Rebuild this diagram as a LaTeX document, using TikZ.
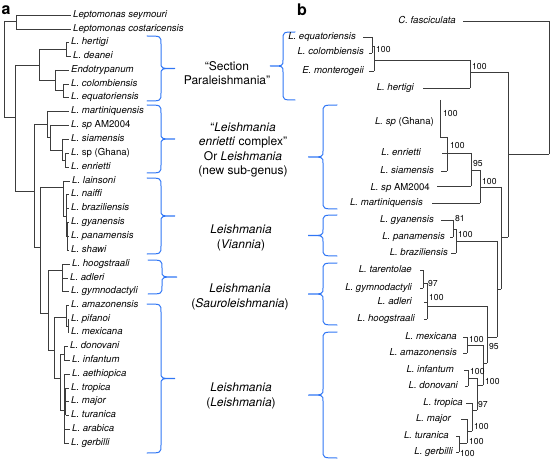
\documentclass[tikz,border=0pt]{standalone}
\usepackage{fontspec}
\setmainfont{TeX Gyre Heros}
\usetikzlibrary{positioning}
\definecolor{braceblue}{RGB}{48,118,245}
\definecolor{treegray}{RGB}{60,60,60}

\tikzset{
  branch/.style={draw=treegray, line width=0.8pt},
  taxon/.style={font=\fontsize{9.6}{11}\selectfont\itshape, inner sep=0pt, text height=6.8pt, text depth=2pt},
  taxa/.style={taxon, anchor=west},
  taxb/.style={taxon, anchor=east},
  boot/.style={font=\fontsize{8.6}{9}\selectfont, inner sep=0pt, anchor=west, text height=6.2pt, text depth=0pt},
  group/.style={font=\fontsize{12}{14.5}\selectfont, align=center, inner sep=0pt},
  curly/.style={draw=braceblue, line width=1pt, line cap=round},
  panel/.style={font=\fontsize{16}{16}\selectfont\bfseries, inner sep=0pt}
}

% clade: parent x, own x, joining y, top y, bottom y
\newcommand{\clade}[5]{\draw[branch] (#1,#3) -- (#2,#3) (#2,#4) -- (#2,#5);}
% curly bracket: end x, back x, tip x, top y, bottom y
\newcommand{\groupbrace}[5]{%
  \draw[curly] (#1,#4) .. controls (#2,#4) .. (#2,#4+8)
    -- (#2,{(#4+#5)/2-6}) .. controls (#2,{(#4+#5)/2}) .. (#3,{(#4+#5)/2})
    .. controls (#2,{(#4+#5)/2}) .. (#2,{(#4+#5)/2+6})
    -- (#2,#5-8) .. controls (#2,#5) .. (#1,#5);}

\begin{document}
\begin{tikzpicture}[x=1pt,y=-1pt]
\useasboundingbox (0,0) rectangle (550,460);

\node[panel] (panela) at (6,10) {a};
\node[panel] (panelb) at (302,10) {b};

% ---- tree a ----
\draw[branch] (4,21) -- (4,117);
\clade{4}{16}{21}{15}{29}
\clade{4}{15}{117}{65}{191}
\clade{15}{39}{65}{49}{80}
\clade{39}{66}{49}{42}{56}
\clade{39}{55}{80}{70}{90}
\clade{55}{63}{90}{84}{97}
\clade{15}{34}{191}{124}{247}
\clade{34}{47}{124}{111}{137}
\clade{47}{50}{137}{125}{150}
\clade{50}{62}{150}{139}{160}
\clade{62}{65}{160}{153}{167}
\clade{34}{40}{247}{187}{313}
\clade{40}{63}{187}{181}{216}
\clade{63}{66}{216}{194}{236}
\clade{66}{67}{236}{222}{250}
\clade{40}{48}{313}{270}{350}
\clade{48}{62}{270}{264}{291}
\clade{48}{54}{350}{317}{378}
\clade{54}{66}{317}{305}{326}
\clade{66}{68}{326}{319}{333}
\clade{54}{60}{378}{354}{410}
\clade{60}{64}{354}{346}{360}
\clade{60}{64}{410}{374}{443}
\clade{64}{65.5}{401}{388}{415}

\foreach \x/\y/\n/\p/\t in {
  73/15/seymouri/16/Leptomonas seymouri,
  73/29/costaricensis/16/Leptomonas costaricensis,
  71/42/hertigi/66/L. hertigi,
  73/56/deanei/66/L. deanei,
  71/70/endotrypanum/55/Endotrypanum,
  71/84/colombiensis/63/L. colombiensis,
  71/97/equatoriensis/63/L. equatoriensis,
  71/111/martiniquensis/47/L. martiniquensis,
  71/125/spam/50/L. sp \textup{AM2004},
  71/139/siamensis/62/L. siamensis,
  71/153/spghana/65/L. \textup{sp (Ghana)},
  71/167/enrietti/65/L. enrietti,
  72/181/lainsoni/63/L. lainsoni,
  71/194/naiffi/66/L. naiffi,
  71/208/braziliensis/66/L. braziliensis,
  71/222/gyanensis/67/L. gyanensis,
  71/236/panamensis/67/L. panamensis,
  71/250/shawi/67/L. shawi,
  72/264/hoogstraali/62/L. hoogstraali,
  70/278/adleri/62/L. adleri,
  71/291/gymnodactyli/62/L. gymnodactyli,
  71/305/amazonensis/66/L. amazonensis,
  71/319/pifanoi/68/L. pifanoi,
  71/332/mexicana/68/L. mexicana,
  70/346/donovani/64/L. donovani,
  72/360/infantum/64/L. infantum,
  72/374/aethiopica/64/L. aethiopica,
  71/388/tropica/65.5/L. tropica,
  71/401/major/65.5/L. major,
  71/415/turanica/65.5/L. turanica,
  72/429/arabica/64/L. arabica,
  71/443/gerbilli/64/L. gerbilli}
{
  \node[taxa] (a\n) at (\x,\y) {\t};
  \draw[branch] (\p,\y) -- ([xshift=-2.5pt]a\n.west);
}

% ---- brackets and group names ----
\groupbrace{147}{161}{175}{36}{101}
\groupbrace{147}{161}{175}{105}{173}
\groupbrace{147}{161}{175}{178}{254}
\groupbrace{148}{162}{177}{260}{294}
\groupbrace{147}{161}{175}{304}{453}

\groupbrace{295}{283}{270}{32}{100}
\groupbrace{337}{323}{308}{105}{209}
\groupbrace{337}{323}{308}{215}{256}
\groupbrace{337}{323}{308}{263}{325}
\groupbrace{337}{323}{308}{332}{458}

\node[group] (paraleish) at (227,73) {“Section\\Paraleishmania”};
\node[group] (enriettigrp) at (243,150) {“\textit{Leishmania}\\\textit{enrietti} complex”\\Or \textit{Leishmania}\\(new sub-genus)};
\node[group] (viannia) at (241,238) {\textit{Leishmania}\\(\textit{Viannia})};
\node[group] (sauro) at (240,297) {\textit{Leishmania}\\(\textit{Sauroleishmania})};
\node[group] (leish) at (241,396) {\textit{Leishmania}\\(\textit{Leishmania})};

% ---- tree b ----
\draw[branch] (463,21) -- (549,21) -- (549,154);
\clade{549}{508}{154}{72}{237}
\clade{508}{470}{72}{60}{88}
\clade{470}{374}{60}{46}{71}
\clade{374}{372}{46}{37}{53}
\clade{508}{501}{237}{187}{289}
\clade{501}{480}{187}{170}{203}
\clade{480}{471}{170}{153}{186}
\clade{471}{447}{153}{137}{171}
\clade{447}{440}{137}{100}{137}
\clade{501}{497}{289}{241}{337}
\clade{497}{456}{241}{229}{253}
\clade{456}{453}{229}{220}{237}
\clade{497}{487}{337}{306}{363}
\clade{487}{427}{306}{283}{319}
\clade{427}{423}{283}{270}{288}
\clade{487}{483}{363}{345}{385}
\clade{483}{467}{345}{337}{353}
\clade{483}{477}{385}{378}{410}
\clade{477}{468}{378}{370}{386}
\clade{477}{472}{410}{403}{431}
\clade{472}{467}{431}{419}{443}
\clade{467}{459}{443}{436}{452}

\foreach \a/\b/\y in {363/372/37, 369/372/53, 369/374/71, 423/470/88,
  442/447/153, 441/447/171, 437/471/186, 432/480/203,
  441/453/220, 450/453/237, 451/456/253,
  420/423/270, 420/423/288, 424/427/302, 424/427/319,
  463/467/337, 463/467/353, 464/468/370, 465/468/386,
  466/472/403, 461/467/419, 456/459/436, 456/459/452}
  \draw[branch] (\a,\y) -- (\b,\y);

\foreach \x/\y/\n/\t in {
  456/21/fasciculata/C. fasciculata,
  356/37/equatoriensis/L. equatoriensis,
  364/52/colombiensis/L. colombiensis,
  364/71/monterogeii/E. monterogeii,
  414/88/hertigi/L. hertigi,
  434/122/spghana/L. sp \textup{(Ghana)},
  421/153/enrietti/L. enrietti,
  434/171/siamensis/L. siamensis,
  430/188/spam/L. sp \textup{AM2004},
  423/203/martiniquensis/L. martiniquensis,
  434/220/gyanensis/L. gyanensis,
  445/237/panamensis/L. panamensis,
  448/253/braziliensis/L. braziliensis,
  412/270/tarentolae/L. tarentolae,
  412/288/gymnodactyli/L. gymnodactyli,
  412/302/adleri/L. adleri,
  415/319/hoogstraali/L. hoogstraali,
  457/337/mexicana/L. mexicana,
  457/353/amazonensis/L. amazonensis,
  454/370/infantum/L. infantum,
  458/386/donovani/L. donovani,
  463/403/tropica/L. tropica,
  451/419/major/L. major,
  449/436/turanica/L. turanica,
  453/452/gerbilli/L. gerbilli}
  \node[taxb] (b\n) at (\x,\y) {\t};

% bootstrap values
\foreach \x/\y/\v in {376/49/100, 472/66/100, 443/113/100, 450/145/100,
  473/163/95, 482/181/100, 455/218/81, 458/234/100,
  428/283/97, 429/297/100, 489/346/95, 469/339/100,
  470/371/100, 485/381/100, 478/404/97, 474/426/100,
  469/441/100, 460/453/100}
  \node[boot] at (\x,\y) {\v};
\end{tikzpicture}
\end{document}
